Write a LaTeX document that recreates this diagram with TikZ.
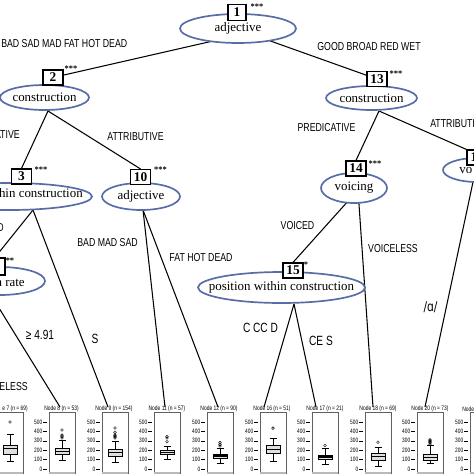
\documentclass[tikz,border=0pt]{standalone}
\usepackage{fontspec}
\setmainfont{Liberation Serif}
\newfontfamily\labfont[FakeStretch=0.76]{Liberation Sans}
\newfontfamily\ipafont[FakeStretch=0.8]{DejaVu Sans}
\usetikzlibrary{shapes.geometric,backgrounds}
\definecolor{ellblue}{RGB}{88,108,168}
\newdimen\pxu \pxu=0.025cm

% one terminal panel: frame, axis ticks, grey foot
\newcommand{\panel}[2]{%
  \draw[frame] ({#2-13},412) rectangle ({#2+13},474);
  \fill[gray!55] ({#2-13},471.5) rectangle ({#2+13},474);
  \foreach \v in {0,100,...,500} {
    \draw[tick] ({#2-19},{469-0.094*\v}) -- ({#2-15},{469-0.094*\v});
    \node[ticklab] (#1-\v) at ({#2-19.5},{469-0.094*\v}) {\v};
  }
}
% boxplot: cx, lo, q1, med, q3, hi, outliers
\newcommand{\bxp}[7]{%
  \draw[whisk] (#1,{469-0.094*#2}) -- (#1,{469-0.094*#3});
  \draw[whisk] (#1,{469-0.094*#5}) -- (#1,{469-0.094*#6});
  \draw[whisk] ({#1-3.5},{469-0.094*#2}) -- ({#1+3.5},{469-0.094*#2});
  \draw[whisk] ({#1-3.5},{469-0.094*#6}) -- ({#1+3.5},{469-0.094*#6});
  \filldraw[boxfill] ({#1-7},{469-0.094*#3}) rectangle ({#1+7},{469-0.094*#5});
  \draw[medline] ({#1-7},{469-0.094*#4}) -- ({#1+7},{469-0.094*#4});
  \foreach \o in {#7} \draw[outl] (#1,{469-0.094*\o}) circle (1.4);
}

\begin{document}
\begin{tikzpicture}[x=0.025cm, y=-0.025cm]

\tikzset{
  split/.style={ellipse, draw=ellblue, line width=1.2pt, fill=white, inner sep=0pt},
  splittxt/.style={inner sep=0pt, font=\fontsize{9.2}{10}\selectfont},
  idbox/.style={rectangle, draw, line width=0.8pt, fill=white, inner sep=0pt,
    minimum width=20\pxu, minimum height=15\pxu, font=\fontsize{9.5}{10}\selectfont\bfseries},
  stars/.style={inner sep=0pt, font=\fontsize{6}{6}\selectfont\bfseries},
  lab/.style={inner sep=0pt, font=\fontsize{8.2}{9}\labfont},
  biglab/.style={inner sep=0pt, font=\fontsize{9.5}{10}\labfont},
  hdr/.style={inner sep=0pt, font=\fontsize{4.6}{5}\labfont},
  ticklab/.style={inner sep=0pt, anchor=east, font=\fontsize{4.5}{5}\labfont},
  edge/.style={line width=0.75pt},
  frame/.style={line width=0.35pt, draw=gray!75!black},
  tick/.style={line width=0.3pt},
  whisk/.style={line width=0.3pt},
  boxfill/.style={line width=0.35pt, fill=gray!25},
  medline/.style={line width=0.8pt},
  outl/.style={line width=0.3pt}
}

\useasboundingbox (0,0) rectangle (474,474);

% inner nodes
\node (e1) [split, minimum width=116\pxu, minimum height=29\pxu, label={[splittxt]center:adjective}] at (238,28.5) {};
\node (e2) [split, minimum width=89\pxu, minimum height=25\pxu, label={[splittxt]center:construction}] at (44.5,97.5) {};
\node (e13) [split, minimum width=91\pxu, minimum height=24\pxu, label={[splittxt]center:construction}] at (371.5,98) {};
\node (e3) [split, minimum width=164\pxu, minimum height=27\pxu] at (10,196.5) {};
\node (e10) [split, minimum width=78\pxu, minimum height=27\pxu, label={[splittxt]center:adjective}] at (141,196.5) {};
\node (e14) [split, minimum width=66\pxu, minimum height=30\pxu, label={[splittxt]center:voicing}] at (354,188) {};
\node (e19) [split, minimum width=68\pxu, minimum height=24\pxu] at (477,170) {};
\node (e4) [split, minimum width=90\pxu, minimum height=28\pxu] at (0,281) {};
\node (e15) [split, minimum width=167\pxu, minimum height=31\pxu, label={[splittxt]center:position within construction}] at (281.5,287.5) {};

\node (t3) [splittxt, anchor=east] at (83,193.5) {hin construction};
\node (t4) [splittxt, anchor=east] at (25,283) {a rate};
\node (t19) [splittxt, anchor=west] at (459,171) {vo};

% id boxes and stars
\node (b1) [idbox, minimum width=18\pxu, minimum height=16\pxu] at (237,12.5) {1};
\node (b2) [idbox] at (53,77.5) {2};
\node (b13) [idbox] at (377,79) {13};
\node (b3) [idbox] at (21.5,176.5) {3};
\node (b10) [idbox] at (140.5,177) {10};
\node (b14) [idbox] at (356,168.5) {14};
\node (b15) [idbox] at (293,270.5) {15};
\node (b4) [idbox, minimum height=17\pxu] at (-5,266.5) {};
\node (b19) [idbox] at (477,157.5) {};
\node (t19b) [idbox, draw=none, fill=none, minimum width=0pt, anchor=west] at (470,157) {1};

\node (s1) [stars] at (257,7) {***};
\node (s2) [stars] at (71,69) {***};
\node (s13) [stars] at (396,74) {***};
\node (s3) [stars] at (41,170) {***};
\node (s10) [stars] at (160.5,170) {***};
\node (s14) [stars] at (375,164) {***};
\node (s15) [stars] at (306,265) {*};
\node (s4) [stars] at (10,261) {**};

% edge labels
\node (l1a) [lab, anchor=west] at (1,44) {BAD SAD MAD FAT HOT DEAD};
\node (l1b) [lab] at (369,47) {GOOD BROAD RED WET};
\node (l2a) [lab, anchor=east] at (20,135) {ATIVE};
\node (l2b) [lab] at (135.5,137) {ATTRIBUTIVE};
\node (l13a) [lab] at (326.5,128) {PREDICATIVE};
\node (l13b) [lab, anchor=west] at (430,124) {ATTRIBUTI};
\node (l3a) [lab, anchor=east] at (4,228) {D};
\node (l10a) [lab] at (107.5,243) {BAD MAD SAD};
\node (l10b) [lab] at (201,258) {FAT HOT DEAD};
\node (l14a) [lab] at (297.5,226) {VOICED};
\node (l14b) [lab] at (393,249) {VOICELESS};
\node (l4b) [biglab] at (40,335) {≥ 4.91};
\node (l3b) [biglab] at (95,339) {S};
\node (l15a) [biglab] at (260.5,328) {C CC D};
\node (l15b) [biglab] at (321,341) {CE S};
\node (l19b) [inner sep=0pt, font=\fontsize{9.5}{10}\ipafont] at (430.5,307) {/ɑ/};
\node (l5b) [lab, anchor=east] at (28,387) {CELESS};

% terminal panels
\foreach \id/\cx in {p7/10, p8/62, p9/115, p11/167, p12/220, p16/273, p17/325, p18/378, p20/430, p21/483}
  \panel{\id}{\cx};

\bxp{10}{85}{160}{215}{255}{372}{500}
\bxp{62}{90}{160}{190}{223}{310}{330,345,360,415}
\bxp{115}{75}{138}{180}{213}{300}{330,340,350,360,390,436}
\bxp{167}{100}{160}{178}{200}{245}{290,330,345}
\bxp{220}{65}{117}{138}{160}{220}{245,260,280}
\bxp{273}{85}{165}{205}{250}{330}{435}
\bxp{325}{55}{100}{128}{150}{225}{250}
\bxp{378}{30}{88}{130}{170}{235}{285}
\bxp{430}{65}{95}{122}{160}{250}{265,280,290,300,310}

\node (h7) [hdr, anchor=east] at (28,409) {e 7 (n = 69)};
\node (h8) [hdr] at (61.5,409) {Node 8 (n = 53)};
\node (h9) [hdr] at (114,409) {Node 9 (n = 154)};
\node (h11) [hdr] at (167,409) {Node 11 (n = 57)};
\node (h12) [hdr] at (219,409) {Node 12 (n = 90)};
\node (h16) [hdr] at (272,409) {Node 16 (n = 51)};
\node (h17) [hdr] at (325,409) {Node 17 (n = 21)};
\node (h18) [hdr] at (378,409) {Node 18 (n = 69)};
\node (h20) [hdr] at (430,409) {Node 20 (n = 73)};
\node (h21) [hdr, anchor=west] at (462,409) {Node};

% fork points and panel tops
\coordinate (f1) at (248,33);
\coordinate (f2) at (48,111);
\coordinate (f13) at (379,111);
\coordinate (f3) at (33,210);
\coordinate (f10) at (143,210);
\coordinate (f14) at (358,190);
\coordinate (f15) at (294,304);
\coordinate (f19) at (473,182);
\coordinate (f4) at (-9,295);
\coordinate (t8) at (60,407);
\coordinate (t9) at (108,407);
\coordinate (t11) at (165,407);
\coordinate (t12) at (218,407);
\coordinate (t16) at (264,407);
\coordinate (t17) at (316,407);
\coordinate (t18) at (373,407);
\coordinate (t20) at (425,407);

\begin{scope}[on background layer]
\draw [edge] (f1) -- (b2.center);
\draw [edge] (f1) -- (b13.center);
\draw [edge] (f2) -- (b3.north);
\draw [edge] (f2) -- (b10.north);
\draw [edge] (f13) -- (b14.north);
\draw [edge] (f13) -- (b19.north west);
\draw [edge] (f3) -- (b4.north);
\draw [edge] (f3) -- (t9);
\draw [edge] (f10) -- (t11);
\draw [edge] (f10) -- (t12);
\draw [edge] (f14) -- (b15.north);
\draw [edge] (f14) -- (t18);
\draw [edge] (f15) -- (t16);
\draw [edge] (f15) -- (t17);
\draw [edge] (f19) -- (t20);
\draw [edge] (f4) -- (t8);
\end{scope}

\end{tikzpicture}
\end{document}
